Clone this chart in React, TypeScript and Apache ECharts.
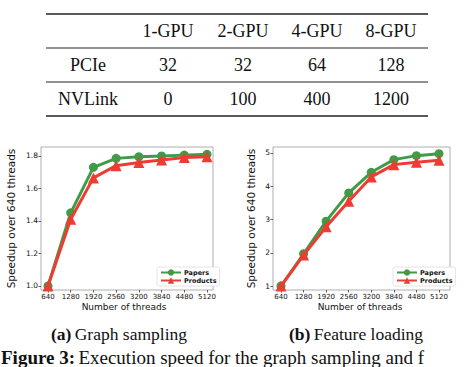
import React, { useEffect, useRef } from "react";
import * as echarts from "echarts";

const threads = [640, 1280, 1920, 2560, 3200, 3840, 4480, 5120];
const samplingPapers = [1.0, 1.45, 1.73, 1.785, 1.795, 1.8, 1.805, 1.81];
const samplingProducts = [1.0, 1.41, 1.665, 1.74, 1.76, 1.775, 1.79, 1.795];
const loadingPapers = [1.0, 1.97, 2.95, 3.8, 4.42, 4.8, 4.92, 4.98];
const loadingProducts = [1.0, 1.93, 2.78, 3.55, 4.28, 4.65, 4.72, 4.78];
const samplingTicks = [1.0, 1.2, 1.4, 1.6, 1.8];
const loadingTicks = [1, 2, 3, 4, 5];

const tableHeader = ["1-GPU", "2-GPU", "4-GPU", "8-GPU"];
const pcieRow = ["32", "32", "64", "128"];
const nvlinkRow = ["0", "100", "400", "1200"];

const GREEN = "#3f9b45";
const RED = "#ee3b33";
const SANS = "DejaVu Sans";
const SERIF = "Liberation Serif";

export default function App() {
  const ref = useRef<HTMLDivElement>(null);
  useEffect(() => {
    const chart = echarts.init(ref.current!, null, { renderer: "svg" });

    const colX = [168, 243, 317, 391];
    const rowsY = [31, 65, 99];
    const tableGraphics: any[] = [];
    const lineYs = [
      [14, 1.6],
      [48, 1],
      [82, 1],
      [116, 1.6],
    ];
    lineYs.forEach(([y, w]) =>
      tableGraphics.push({
        type: "line",
        shape: { x1: 46, y1: y, x2: 428, y2: y },
        style: { stroke: "#222", lineWidth: w },
      })
    );
    const addText = (t: string, x: number, y: number) =>
      tableGraphics.push({
        type: "text",
        x,
        y,
        style: {
          text: t,
          font: `18px "${SERIF}"`,
          fill: "#111",
          textAlign: "center",
          textVerticalAlign: "middle",
        },
      });
    tableHeader.forEach((t, i) => addText(t, colX[i], rowsY[0]));
    addText("PCIe", 88, rowsY[1]);
    pcieRow.forEach((t, i) => addText(t, colX[i], rowsY[1]));
    addText("NVLink", 88, rowsY[2]);
    nvlinkRow.forEach((t, i) => addText(t, colX[i], rowsY[2]));

    const captions: any[] = [
      {
        type: "text",
        x: 119,
        y: 334,
        style: {
          rich: {
            b: { font: `bold 17.5px "${SERIF}"`, fill: "#111" },
            n: { font: `17.5px "${SERIF}"`, fill: "#111" },
          },
          text: "{b|(a)} {n|Graph sampling}",
          textAlign: "center",
          textVerticalAlign: "middle",
        },
      },
      {
        type: "text",
        x: 356,
        y: 334,
        style: {
          rich: {
            b: { font: `bold 17.5px "${SERIF}"`, fill: "#111" },
            n: { font: `17.5px "${SERIF}"`, fill: "#111" },
          },
          text: "{b|(b)} {n|Feature loading}",
          textAlign: "center",
          textVerticalAlign: "middle",
        },
      },
      {
        type: "text",
        x: 1,
        y: 348,
        style: {
          rich: {
            b: { font: `bold 19px "${SERIF}"`, fill: "#111" },
            n: { font: `19px "${SERIF}"`, fill: "#111" },
          },
          text: "{b|Figure 3:} {n|Execution speed for the graph sampling and f}",
          textAlign: "left",
          textVerticalAlign: "top",
        },
      },
      {
        type: "text",
        x: 124,
        y: 307,
        style: { text: "Number of threads", font: `9px "${SANS}"`, fill: "#111", textAlign: "center", textVerticalAlign: "middle" },
      },
      {
        type: "text",
        x: 360,
        y: 307,
        style: { text: "Number of threads", font: `9px "${SANS}"`, fill: "#111", textAlign: "center", textVerticalAlign: "middle" },
      },
    ];

    const xAxisBase = (gridIndex: number, min: number, max: number) => ({
      type: "value",
      gridIndex,
      min,
      max,
      axisLine: { show: false },
      splitLine: { show: false },
      axisTick: { show: true, length: 2.5, lineStyle: { color: "#333", width: 0.8 }, customValues: threads },
      axisLabel: { fontFamily: SANS, fontSize: 7, color: "#111", margin: 3, customValues: threads, formatter: (v: number) => String(v) },
    });
    const yAxisBase = (gridIndex: number, min: number, max: number, ticks: number[], fmt: (v: number) => string) => ({
      type: "value",
      gridIndex,
      min,
      max,
      name: "Speedup over 640 threads",
      nameLocation: "middle",
      nameGap: gridIndex === 0 ? 25 : 17,
      nameTextStyle: { fontFamily: SANS, fontSize: 10.5, color: "#111" },
      axisLine: { show: false },
      splitLine: { show: false },
      axisTick: { show: true, length: 2.5, lineStyle: { color: "#333", width: 0.8 }, customValues: ticks },
      axisLabel: { fontFamily: SANS, fontSize: 7.5, color: "#111", margin: 3, customValues: ticks, formatter: fmt },
    });

    const mk = (name: string, data: number[], idx: number, color: string, symbol: string, size: number) => ({
      type: "line",
      name,
      xAxisIndex: idx,
      yAxisIndex: idx,
      data: threads.map((t, i) => [t, data[i]]),
      symbol,
      symbolSize: size,
      showAllSymbol: true,
      lineStyle: { color, width: 3 },
      itemStyle: { color },
      z: name === "Papers" ? 3 : 4,
    });

    const legendBase = (left: number, top: number) => ({
      orient: "vertical",
      left,
      top,
      itemWidth: 20,
      itemHeight: 8,
      itemGap: 1,
      padding: [2, 3, 2, 3],
      borderColor: "#ddd",
      borderWidth: 0.8,
      borderRadius: 2,
      backgroundColor: "#fff",
      textStyle: { fontFamily: SANS, fontSize: 6.5, fontWeight: "bold", color: "#111", padding: [0, 0, 0, -2] },
      data: ["Papers", "Products"],
    });

    chart.setOption({
      animation: false,
      backgroundColor: "#fff",
      grid: [
        { left: 41, top: 147, width: 172, height: 143, show: true, borderColor: "#999", borderWidth: 0.8, backgroundColor: "transparent" },
        { left: 273, top: 147, width: 177, height: 143, show: true, borderColor: "#999", borderWidth: 0.8, backgroundColor: "transparent" },
      ],
      xAxis: [xAxisBase(0, 443, 5289), xAxisBase(1, 413, 5432)],
      yAxis: [
        yAxisBase(0, 0.975, 1.855, samplingTicks, (v) => v.toFixed(1)),
        yAxisBase(1, 0.88, 5.18, loadingTicks, (v) => String(v)),
      ],
      legend: [
        { ...legendBase(157, 267), seriesIndex: [0, 1] },
        { ...legendBase(393, 267), seriesIndex: [2, 3] },
      ],
      series: [
        mk("Papers", samplingPapers, 0, GREEN, "circle", 9),
        mk("Products", samplingProducts, 0, RED, "triangle", 11),
        mk("Papers", loadingPapers, 1, GREEN, "circle", 9),
        mk("Products", loadingProducts, 1, RED, "triangle", 11),
      ],
      graphic: [...tableGraphics, ...captions],
    });
    return () => chart.dispose();
  }, []);
  return <div ref={ref} style={{ width: 474, height: 367, position: "absolute", left: 0, top: 0 }} />;
}
